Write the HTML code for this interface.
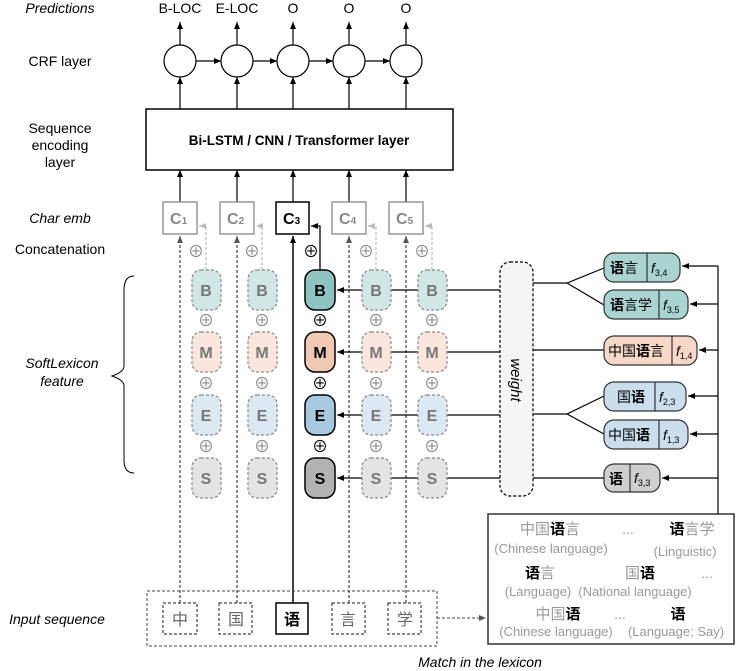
<!DOCTYPE html>
<html><head><meta charset="utf-8"><style>
html,body{margin:0;padding:0;background:#fff}
svg{display:block}
text{font-family:"Liberation Sans","Noto Sans CJK SC",sans-serif}
.it{font-style:italic}
</style></head><body>
<svg width="736" height="671" viewBox="0 0 736 671" xmlns="http://www.w3.org/2000/svg">
<defs>
<marker id="a" markerWidth="8" markerHeight="8" refX="7" refY="4" orient="auto" markerUnits="userSpaceOnUse"><path d="M0,1 L7,4 L0,7 z" fill="#000"/></marker>
<marker id="ag" markerWidth="8" markerHeight="8" refX="7" refY="4" orient="auto" markerUnits="userSpaceOnUse"><path d="M0,1 L7,4 L0,7 z" fill="#bbb"/></marker>
<marker id="ad" markerWidth="8" markerHeight="8" refX="7" refY="4" orient="auto" markerUnits="userSpaceOnUse"><path d="M0,1 L7,4 L0,7 z" fill="#555"/></marker>
</defs>

<g font-size="14" text-anchor="middle" fill="#000">
<text x="60" y="13" class="it">Predictions</text>
<text x="60" y="66">CRF layer</text>
<text x="60" y="133">Sequence</text>
<text x="60" y="150">encoding</text>
<text x="60" y="167">layer</text>
<text x="60" y="223" class="it">Char emb</text>
<text x="60" y="254">Concatenation</text>
<text x="62" y="368" class="it">SoftLexicon</text>
<text x="62" y="386" class="it">feature</text>
<text x="57" y="624" class="it">Input sequence</text>
<text x="480" y="667" class="it">Match in the lexicon</text>
</g>
<path d="M134,276 Q124,276 124,290 L124,366 Q124,372 112,376 Q124,380 124,386 L124,460 Q124,473 134,473" fill="none" stroke="#000" stroke-width="1"/>

<g font-size="14" text-anchor="middle">
<text x="180" y="13">B-LOC</text><text x="237" y="13">E-LOC</text><text x="293" y="13">O</text><text x="349" y="13">O</text><text x="406" y="13">O</text>
</g>
<g stroke="#000" stroke-width="1.2" fill="none">
<line x1="180" y1="45" x2="180" y2="22" marker-end="url(#a)"/><line x1="237" y1="45" x2="237" y2="22" marker-end="url(#a)"/><line x1="293" y1="45" x2="293" y2="22" marker-end="url(#a)"/><line x1="349" y1="45" x2="349" y2="22" marker-end="url(#a)"/><line x1="406" y1="45" x2="406" y2="22" marker-end="url(#a)"/>
<circle cx="180" cy="61" r="16"/><circle cx="237" cy="61" r="16"/><circle cx="293" cy="61" r="16"/><circle cx="349" cy="61" r="16"/><circle cx="406" cy="61" r="16"/>
<line x1="196" y1="61" x2="221" y2="61" marker-end="url(#a)"/><line x1="253" y1="61" x2="277" y2="61" marker-end="url(#a)"/><line x1="309" y1="61" x2="333" y2="61" marker-end="url(#a)"/><line x1="365" y1="61" x2="390" y2="61" marker-end="url(#a)"/>
<line x1="180" y1="109" x2="180" y2="77" marker-end="url(#a)"/><line x1="237" y1="109" x2="237" y2="77" marker-end="url(#a)"/><line x1="293" y1="109" x2="293" y2="77" marker-end="url(#a)"/><line x1="349" y1="109" x2="349" y2="77" marker-end="url(#a)"/><line x1="406" y1="109" x2="406" y2="77" marker-end="url(#a)"/>
<rect x="146" y="109" width="307" height="61" stroke-width="1.5"/>
<line x1="180" y1="202" x2="180" y2="170" marker-end="url(#a)"/><line x1="237" y1="202" x2="237" y2="170" marker-end="url(#a)"/><line x1="293" y1="202" x2="293" y2="170" marker-end="url(#a)"/><line x1="349" y1="202" x2="349" y2="170" marker-end="url(#a)"/><line x1="406" y1="202" x2="406" y2="170" marker-end="url(#a)"/>
</g>
<text x="299" y="145" font-size="13.5" font-weight="bold" text-anchor="middle">Bi-LSTM / CNN / Transformer  layer</text>

<g fill="#fff" stroke-width="1.5">
<rect x="163" y="202" width="34" height="32" stroke="#999"/>
<rect x="220" y="202" width="34" height="32" stroke="#999"/>
<rect x="276" y="202" width="33" height="32" stroke="#000"/>
<rect x="332" y="202" width="34" height="32" stroke="#999"/>
<rect x="389" y="202" width="34" height="32" stroke="#999"/>
</g>
<g font-size="16" font-weight="bold" fill="#888">
<text x="170" y="224">C<tspan font-size="10">1</tspan></text>
<text x="227" y="224">C<tspan font-size="10">2</tspan></text>
<text x="283" y="224" fill="#000">C<tspan font-size="10">3</tspan></text>
<text x="339" y="224">C<tspan font-size="10">4</tspan></text>
<text x="396" y="224">C<tspan font-size="10">5</tspan></text>
</g>

<g stroke="#444" stroke-width="1.2" stroke-dasharray="3,2" fill="none">
<line x1="180" y1="603" x2="180" y2="236" marker-end="url(#ad)"/>
<line x1="237" y1="603" x2="237" y2="236" marker-end="url(#ad)"/>
<line x1="349" y1="603" x2="349" y2="236" marker-end="url(#ad)"/>
<line x1="406" y1="603" x2="406" y2="236" marker-end="url(#ad)"/>
</g>
<line x1="293" y1="603" x2="293" y2="236" stroke="#000" stroke-width="1.5" marker-end="url(#a)"/>
<g stroke="#bbb" stroke-width="1.2" stroke-dasharray="3,2" fill="none">
<path d="M206,270 L206,226 L199,226" marker-end="url(#ag)"/>
<path d="M262,270 L262,226 L256,226" marker-end="url(#ag)"/>
<path d="M376,270 L376,226 L368,226" marker-end="url(#ag)"/>
<path d="M432,270 L432,226 L425,226" marker-end="url(#ag)"/>
</g>
<path d="M320,270 L320,226 L311,226" stroke="#000" stroke-width="1.3" fill="none" marker-end="url(#a)"/>

<g stroke="#000" stroke-width="1.3" fill="none">
<line x1="500" y1="290" x2="337" y2="290" marker-end="url(#a)"/>
<line x1="500" y1="352" x2="337" y2="352" marker-end="url(#a)"/>
<line x1="500" y1="415" x2="337" y2="415" marker-end="url(#a)"/>
<line x1="500" y1="478" x2="337" y2="478" marker-end="url(#a)"/>
</g>

<g stroke="#888" stroke-width="1.2" stroke-dasharray="3,2">
<rect x="192" y="270" width="29" height="40" rx="9" fill="#d0e7e5"/><rect x="248" y="270" width="29" height="40" rx="9" fill="#d0e7e5"/><rect x="362" y="270" width="29" height="40" rx="9" fill="#d0e7e5"/><rect x="418" y="270" width="29" height="40" rx="9" fill="#d0e7e5"/>
<rect x="192" y="332" width="29" height="40" rx="9" fill="#fae6dd"/><rect x="248" y="332" width="29" height="40" rx="9" fill="#fae6dd"/><rect x="362" y="332" width="29" height="40" rx="9" fill="#fae6dd"/><rect x="418" y="332" width="29" height="40" rx="9" fill="#fae6dd"/>
<rect x="192" y="395" width="29" height="40" rx="9" fill="#dce9f2"/><rect x="248" y="395" width="29" height="40" rx="9" fill="#dce9f2"/><rect x="362" y="395" width="29" height="40" rx="9" fill="#dce9f2"/><rect x="418" y="395" width="29" height="40" rx="9" fill="#dce9f2"/>
<rect x="192" y="458" width="29" height="40" rx="9" fill="#e4e4e4"/><rect x="248" y="458" width="29" height="40" rx="9" fill="#e4e4e4"/><rect x="362" y="458" width="29" height="40" rx="9" fill="#e4e4e4"/><rect x="418" y="458" width="29" height="40" rx="9" fill="#e4e4e4"/>
</g>
<g stroke="#000" stroke-width="1.5">
<rect x="305" y="270" width="30" height="40" rx="10" fill="#8ec5c2"/>
<rect x="305" y="332" width="30" height="40" rx="10" fill="#f0c8b3"/>
<rect x="305" y="395" width="30" height="40" rx="10" fill="#a8c8df"/>
<rect x="305" y="458" width="30" height="40" rx="10" fill="#b3b3b3"/>
</g>
<g font-size="16" font-weight="bold" text-anchor="middle" fill="#777">
<text x="206" y="296">B</text><text x="262" y="296">B</text><text x="320" y="296" fill="#000">B</text><text x="376" y="296">B</text><text x="432" y="296">B</text>
<text x="206" y="358">M</text><text x="262" y="358">M</text><text x="320" y="358" fill="#000">M</text><text x="376" y="358">M</text><text x="432" y="358">M</text>
<text x="206" y="421">E</text><text x="262" y="421">E</text><text x="320" y="421" fill="#000">E</text><text x="376" y="421">E</text><text x="432" y="421">E</text>
<text x="206" y="484">S</text><text x="262" y="484">S</text><text x="320" y="484" fill="#000">S</text><text x="376" y="484">S</text><text x="432" y="484">S</text>
</g>
<g font-size="16" text-anchor="middle" fill="#888">
<text x="196" y="257">⊕</text><text x="252" y="257">⊕</text><text x="311" y="257" fill="#000">⊕</text><text x="366" y="257">⊕</text><text x="422" y="257">⊕</text>
<text x="206" y="326">⊕</text><text x="262" y="326">⊕</text><text x="320" y="326" fill="#000">⊕</text><text x="376" y="326">⊕</text><text x="432" y="326">⊕</text>
<text x="206" y="389">⊕</text><text x="262" y="389">⊕</text><text x="320" y="389" fill="#000">⊕</text><text x="376" y="389">⊕</text><text x="432" y="389">⊕</text>
<text x="206" y="452">⊕</text><text x="262" y="452">⊕</text><text x="320" y="452" fill="#000">⊕</text><text x="376" y="452">⊕</text><text x="432" y="452">⊕</text>
</g>

<rect x="500" y="262" width="33" height="234" rx="10" fill="#f5f5f5" stroke="#000" stroke-width="1.2" stroke-dasharray="3,2"/>
<text x="0" y="0" font-size="15" class="it" text-anchor="middle" transform="translate(511,380) rotate(90)">weight</text>

<g stroke="#000" stroke-width="1.2" fill="none">
<path d="M533,283 L567,283 L604,268 M567,283 L604,305"/>
<line x1="533" y1="350" x2="604" y2="350"/>
<path d="M533,414 L567,414 L604,396 M567,414 L604,434"/>
<line x1="533" y1="478" x2="604" y2="478"/>
<line x1="718" y1="266" x2="718" y2="514"/>
<line x1="718" y1="266" x2="682" y2="266" marker-end="url(#a)"/>
<line x1="718" y1="304" x2="690" y2="304" marker-end="url(#a)"/>
<line x1="718" y1="350" x2="699" y2="350" marker-end="url(#a)"/>
<line x1="718" y1="396" x2="688" y2="396" marker-end="url(#a)"/>
<line x1="718" y1="434" x2="690" y2="434" marker-end="url(#a)"/>
<line x1="718" y1="478" x2="662" y2="478" marker-end="url(#a)"/>
</g>
<g stroke="#333" stroke-width="1.2">
<rect x="604" y="253" width="76" height="29" rx="10" fill="#a9d4d1"/>
<rect x="604" y="290" width="84" height="29" rx="10" fill="#a9d4d1"/>
<rect x="604" y="336" width="93" height="29" rx="10" fill="#f6d7c8"/>
<rect x="604" y="382" width="82" height="29" rx="10" fill="#cadeee"/>
<rect x="604" y="420" width="84" height="29" rx="10" fill="#cadeee"/>
<rect x="604" y="464" width="56" height="28" rx="10" fill="#cfcfcf"/>
<line x1="647" y1="253" x2="647" y2="282"/>
<line x1="659" y1="290" x2="659" y2="319"/>
<line x1="672" y1="336" x2="672" y2="365"/>
<line x1="655" y1="382" x2="655" y2="411"/>
<line x1="659" y1="420" x2="659" y2="449"/>
<line x1="630" y1="464" x2="630" y2="492"/>
</g>
<g font-size="14">
<text x="610" y="273"><tspan font-weight="bold">语</tspan>言</text>
<text x="610" y="310"><tspan font-weight="bold">语</tspan>言学</text>
<text x="608" y="356">中国<tspan font-weight="bold">语</tspan>言</text>
<text x="617" y="402">国<tspan font-weight="bold">语</tspan></text>
<text x="608" y="440">中国<tspan font-weight="bold">语</tspan></text>
<text x="609" y="484" font-weight="bold">语</text>
</g>
<g font-style="italic" font-size="14">
<text x="651" y="273" font-family="Liberation Serif">f<tspan font-size="9" dy="3" font-style="normal">3,4</tspan></text>
<text x="663" y="310" font-family="Liberation Serif">f<tspan font-size="9" dy="3" font-style="normal">3,5</tspan></text>
<text x="676" y="356" font-family="Liberation Serif">f<tspan font-size="9" dy="3" font-style="normal">1,4</tspan></text>
<text x="659" y="402" font-family="Liberation Serif">f<tspan font-size="9" dy="3" font-style="normal">2,3</tspan></text>
<text x="663" y="440" font-family="Liberation Serif">f<tspan font-size="9" dy="3" font-style="normal">1,3</tspan></text>
<text x="634" y="483" font-family="Liberation Serif">f<tspan font-size="9" dy="3" font-style="normal">3,3</tspan></text>
</g>

<rect x="488" y="514" width="246" height="130" fill="#fff" stroke="#333" stroke-width="1.5"/>
<g text-anchor="middle" fill="#999">
<text x="550" y="534" font-size="15">中国<tspan font-weight="bold" fill="#000">语</tspan>言</text>
<text x="628" y="534" font-size="14">...</text>
<text x="692" y="534" font-size="15"><tspan font-weight="bold" fill="#000">语</tspan>言学</text>
<text x="551" y="553" font-size="13">(Chinese language)</text>
<text x="685" y="556" font-size="13">(Linguistic)</text>
<text x="540" y="578" font-size="15"><tspan font-weight="bold" fill="#000">语</tspan>言</text>
<text x="640" y="578" font-size="15">国<tspan font-weight="bold" fill="#000">语</tspan></text>
<text x="707" y="578" font-size="14">...</text>
<text x="538" y="596" font-size="13">(Language)</text>
<text x="635" y="596" font-size="13">(National language)</text>
<text x="558" y="619" font-size="15">中国<tspan font-weight="bold" fill="#000">语</tspan></text>
<text x="620" y="619" font-size="14">...</text>
<text x="678" y="619" font-size="15" font-weight="bold" fill="#000">语</text>
<text x="556" y="636" font-size="13">(Chinese language)</text>
<text x="676" y="636" font-size="13">(Language; Say)</text>
</g>

<rect x="147" y="591" width="290" height="55" fill="none" stroke="#444" stroke-width="1" stroke-dasharray="3,2"/>
<line x1="437" y1="618" x2="486" y2="618" stroke="#444" stroke-width="1" stroke-dasharray="3,2" marker-end="url(#ad)"/>
<g fill="#fff" stroke="#444" stroke-width="1.2" stroke-dasharray="3,2">
<rect x="163" y="603" width="34" height="31"/><rect x="219" y="603" width="33" height="31"/><rect x="332" y="603" width="33" height="31"/><rect x="388" y="603" width="33" height="31"/>
</g>
<rect x="276" y="603" width="32" height="31" fill="#fff" stroke="#000" stroke-width="1.5"/>
<g font-size="16" text-anchor="middle" fill="#666">
<text x="180" y="625">中</text><text x="236" y="625">国</text><text x="292" y="625" fill="#000" font-weight="bold">语</text><text x="348" y="625">言</text><text x="405" y="625">学</text>
</g>
</svg>
</body></html>
